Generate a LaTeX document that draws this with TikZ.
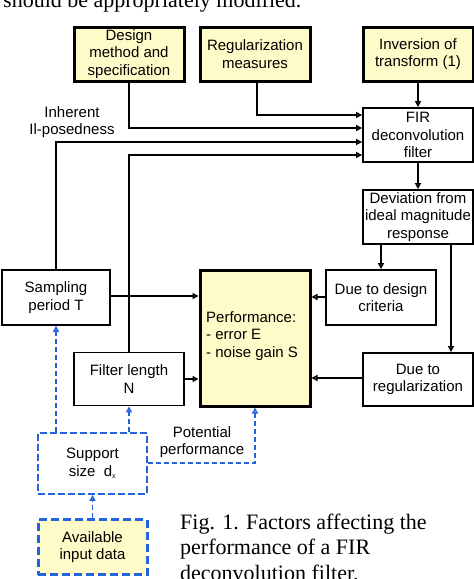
\documentclass[tikz,border=0pt]{standalone}
\usepackage{fontspec}
\setmainfont{Liberation Sans}
\newfontfamily\capfont{Liberation Serif}
\usetikzlibrary{arrows.meta}
\definecolor{boxyellow}{RGB}{255,251,200}
\definecolor{dashblue}{RGB}{35,100,220}
\tikzset{
  boxbase/.style={draw=black, font=\fontsize{15}{17.5}\selectfont, align=center, inner sep=1pt, anchor=center},
  thinbox/.style={boxbase, line width=1.8pt, fill=white},
  thickbox/.style={boxbase, line width=3pt, fill=boxyellow},
  bluebox/.style={boxbase, draw=dashblue, line width=1.8pt, dash pattern=on 7pt off 3pt},
  bluethick/.style={boxbase, draw=dashblue, line width=3pt, dash pattern=on 8pt off 4pt, fill=boxyellow},
  conn/.style={line width=1.6pt, -{Triangle[open,length=6pt,width=6pt]}},
  bconn/.style={conn, draw=dashblue, dash pattern=on 5pt off 3pt},
  lbl/.style={font=\fontsize{15}{17.5}\selectfont, align=center, inner sep=0pt},
  captext/.style={font=\capfont\fontsize{22}{25.5}\selectfont, inner sep=0pt, anchor=base west}
}
\begin{document}
\begin{tikzpicture}[x=1pt,y=-1pt]
\useasboundingbox (0,0) rectangle (474,579);
% top cut text
\node[captext] (toptext) at (3,7) {should be appropriately modified.};
% boxes
\node[thickbox, minimum width=110pt, minimum height=54pt] (design) at (129,54) {Design\\method and\\specification};
\node[thickbox, minimum width=110pt, minimum height=54pt] (reg) at (255,54) {Regularization\\measures};
\node[thickbox, minimum width=110pt, minimum height=54pt] (inv) at (418,54) {Inversion of\\transform (1)};
\node[thinbox, minimum width=110pt, minimum height=54pt] (fir) at (418,135) {FIR\\deconvolution\\filter};
\node[thinbox, minimum width=110pt, minimum height=54pt] (dev) at (418,217) {Deviation from\\ideal magnitude\\response};
\node[thinbox, minimum width=110pt, minimum height=55pt] (duedes) at (381,297.5) {Due to design\\criteria};
\node[thickbox, minimum width=110pt, minimum height=136pt] (perf) at (255,338) {};
\node[lbl, anchor=west, align=left] (perftext) at (206,336) {Performance:\\- error E\\- noise gain S};
\node[thinbox, minimum width=108pt, minimum height=55pt] (samp) at (56,297.5) {Sampling\\period T};
\node[thinbox, minimum width=110pt, minimum height=53pt] (filt) at (129,379) {Filter length\\N};
\node[thinbox, minimum width=110pt, minimum height=53pt] (duereg) at (418,379.5) {Due to\\regularization};
\node[bluebox, minimum width=109pt, minimum height=61pt] (supp) at (92.5,463.5) {Support\\size\ \ d\textsubscript{\fontsize{7}{8}\selectfont x}};
\node[bluethick, minimum width=109pt, minimum height=55pt] (avail) at (92.5,547) {Available\\input data};
% labels
\node[lbl] (inh) at (72,122) {Inherent\\Il-posedness};
\node[lbl] (pot) at (202,442) {Potential\\performance};
% caption
\node[captext] (cap1) at (180,529) {Fig. 1. Factors affecting the};
\node[captext] (cap2) at (180,554.5) {performance of a FIR};
\node[captext] (cap3) at (180,580) {deconvolution filter.};
% coordinates
\coordinate (c1) at (257,115);
\coordinate (c2) at (129,128);
\coordinate (c3) at (56,142);
\coordinate (c4) at (129,155);
% connectors
\draw[conn] (inv.south) -- (fir.north);
\draw[conn] (reg.south -| c1) -- (c1) -- (c1 -| fir.west);
\draw[conn] (design.south) -- (c2) -- (c2 -| fir.west);
\draw[conn] (samp.north) -- (c3) -- (c3 -| fir.west);
\draw[conn] (filt.north) -- (c4) -- (c4 -| fir.west);
\draw[conn] (fir.south) -- (dev.north);
\draw[conn] (dev.south -| duedes.north) -- (duedes.north);
\coordinate (c5) at (451,300);
\draw[conn] (dev.south -| c5) -- (duereg.north -| c5);
\coordinate (c6) at (0,296);
\draw[conn] (samp.east |- c6) -- (perf.west |- c6);
\coordinate (c7) at (0,297);
\draw[conn] (duedes.west |- c7) -- (perf.east |- c7);
\draw[conn] (filt.east) -- (perf.west |- filt.east);
\coordinate (c8) at (0,378);
\draw[conn] (duereg.west |- c8) -- (perf.east |- c8);
% blue dashed
\draw[bconn] (supp.north -| samp.south) -- (samp.south);
\draw[bconn] (supp.north -| filt.south) -- (filt.south);
\coordinate (c9) at (255,463);
\draw[bconn] (supp.east |- c9) -- (c9) -- (perf.south);
\draw[bconn] (avail.north) -- (supp.south);
\end{tikzpicture}
\end{document}
